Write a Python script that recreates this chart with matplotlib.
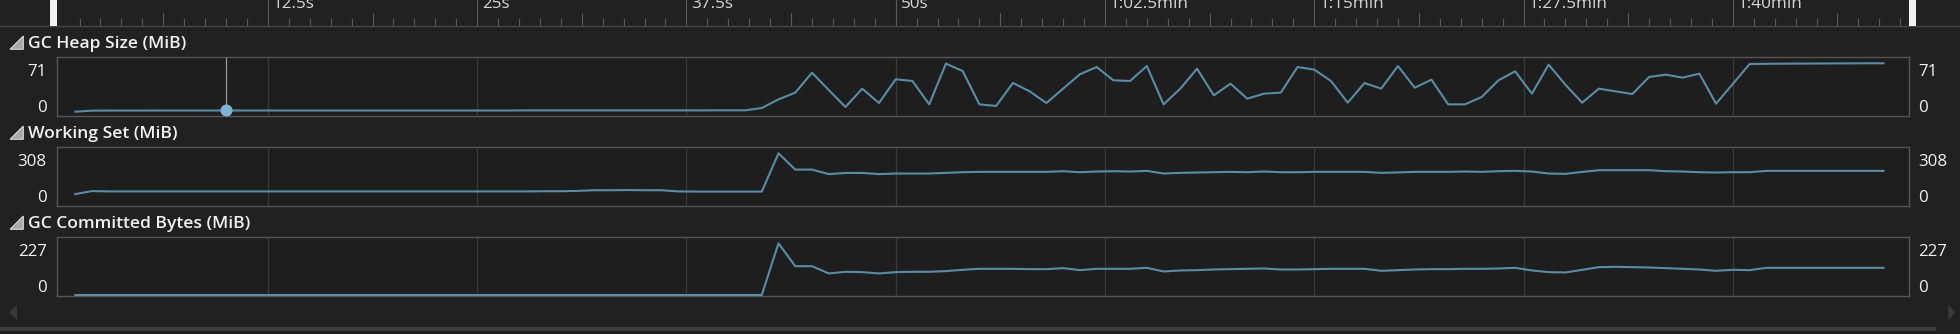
import numpy as np
import matplotlib.pyplot as plt
from matplotlib.patches import Polygon, Rectangle
from matplotlib.transforms import offset_copy

W, H = 1960, 334

BG = "#212121"
BOX_BG = "#1e1e1e"
EDGE = "#555555"
GRID = "#3a3a3a"
LINE = "#5b8ca6"
TEXT = "#f1f1f1"
TICK = "#5a5a5a"

plt.rcParams["font.family"] = ["Open Sans", "DejaVu Sans"]

# one sample per second
seconds = np.arange(1, 110)

heap_mib = [
    4.5, 6.0, 6.1, 6.1, 6.1, 6.2, 6.2, 6.2, 6.2, 6.2,
    6.2, 6.2, 6.2, 6.2, 6.2, 6.2, 6.2, 6.2, 6.2, 6.2,
    6.2, 6.2, 6.2, 6.2, 6.2, 6.2, 6.2, 6.3, 6.3, 6.3,
    6.3, 6.3, 6.3, 6.3, 6.3, 6.3, 6.3, 6.3, 6.4, 6.4,
    6.4, 9.6, 21.5, 30.7, 58.1, 34.3, 11.0, 36.2, 16.5, 49.0,
    46.7, 14.6, 70.5, 60.4, 14.6, 12.4, 44.0, 32.5, 16.5, 36.2,
    55.9, 65.9, 47.6, 46.7, 67.3, 14.6, 36.2, 63.6, 27.0, 43.0,
    22.4, 29.3, 30.7, 65.9, 62.3, 46.7, 16.9, 43.9, 36.2, 67.3,
    37.5, 48.5, 14.6, 14.6, 24.7, 47.6, 60.0, 29.3, 69.1, 41.7,
    16.9, 36.2, 32.5, 28.8, 52.2, 55.4, 51.3, 56.8, 15.6, 42.6,
    70.0, 70.3, 70.5, 70.6, 70.7, 70.8, 70.9, 71.0, 71.0,
]

working_set_mib = [
    65, 83, 81, 81, 81, 81, 81, 81, 81, 81,
    81, 81, 81, 81, 81, 81, 81, 81, 81, 81,
    81, 81, 81, 81, 81, 81, 81, 81, 82, 82,
    84, 88, 88, 89, 88, 88, 81, 80, 80, 80,
    80, 80, 308, 211, 211, 184, 191, 191, 184, 187.5,
    187.5, 187.5, 191.5, 195.4, 197.4, 197.4, 197.4, 197.4, 197.4, 201.3,
    195.4, 199.4, 201.3, 199.4, 203.3, 187.5, 191.5, 193.5, 195.4, 197.4,
    195.4, 199.4, 195.4, 195.4, 197.4, 197.4, 197.4, 197.4, 191.5, 194.0,
    197.4, 197.4, 197.4, 199.4, 197.4, 201.3, 203.3, 199.4, 187.5, 185.6,
    197.0, 207.3, 207.3, 207.3, 207.3, 201.3, 199.4, 195.4, 193.5, 195.4,
    195.4, 203.3, 203.3, 203.3, 203.3, 203.3, 203.3, 203.3, 203.3,
]

committed_mib = [
    0, 0, 0, 0, 0, 0, 0, 0, 0, 0,
    0, 0, 0, 0, 0, 0, 0, 0, 0, 0,
    0, 0, 0, 0, 0, 0, 0, 0, 0, 0,
    0, 0, 0, 0, 0, 0, 0, 0, 0, 0,
    0, 0, 227, 126.6, 126.6, 94.6, 101.9, 100.4, 94.6, 100.4,
    101.9, 101.9, 104.8, 110.6, 115, 115, 115, 113.5, 113.5, 117.9,
    109.1, 115, 115, 115, 119.3, 103.3, 107.7, 109.1, 112, 113.5,
    115, 116.4, 112, 112, 113.5, 115, 115, 115, 106.2, 109.1,
    112, 113.5, 113.5, 115, 115, 116.4, 119.3, 107.7, 100.4, 98.9,
    110.6, 122.2, 123.7, 122.2, 120.8, 117.9, 115, 112, 106.2, 110.6,
    109.1, 119.3, 119.3, 119.3, 119.3, 119.3, 119.3, 119.3, 119.3,
]

titles = ["GC Heap Size (MiB)", "Working Set (MiB)", "GC Committed Bytes (MiB)"]
max_labels = [71, 308, 227]
panel_tops = [57.3, 147.3, 237.3]

ruler_labels = ["12.5s", "25s", "37.5s", "50s", "1:02.5min", "1:15min", "1:27.5min", "1:40min"]
ruler_major = [12.5, 25, 37.5, 50, 62.5, 75, 87.5, 100]

cursor_time = 10

# pixel -> seconds (x = 58.6 + 16.742 * t)
px_per_s = 16.742
t0_px = 58.6
box_left, box_right = 56.7, 1909.3
box_h = 58.7


def to_t(px):
    return (px - t0_px) / px_per_s


fig = plt.figure(figsize=(W / 100, H / 100), dpi=100, facecolor=BG)

# time ruler on top
ruler = fig.add_axes([0, 1 - 26 / H, 1, 26 / H])
ruler.set_facecolor(BG)
ruler.set_xlim(to_t(0), to_t(W))
ruler.set_ylim(0, 26)
for side in ["top", "left", "right"]:
    ruler.spines[side].set_visible(False)
ruler.spines["bottom"].set_color("#474747")
ruler.spines["bottom"].set_linewidth(1)
ruler.set_xticks([])
ruler.set_yticks([])
for i, t in enumerate(np.arange(1.25, 110.01, 1.25)):
    if (i + 1) % 10 == 0:
        h = 26
    elif (i + 1) % 5 == 0:
        h = 13.3
    else:
        h = 6.7
    ruler.plot([t, t], [0, h], color=TICK, lw=0.8)
for t, lab in zip(ruler_major, ruler_labels):
    ruler.text(t + 5 / px_per_s, 18, lab, color="#d4d4d4", fontsize=12.3,
               ha="left", va="baseline")
# selection handles
for x in [50, 1909.3]:
    fig.add_artist(Rectangle((x / W, 1 - 26 / H), 6.7 / W, 26 / H,
                             transform=fig.transFigure, color="#f2f2f2", lw=0))

series = [heap_mib, working_set_mib, committed_mib]
axes = []
for top, vals, mx, title in zip(panel_tops, series, max_labels, titles):
    ax = fig.add_axes([box_left / W, 1 - (top + box_h) / H,
                       (box_right - box_left) / W, box_h / H])
    ax.set_facecolor(BOX_BG)
    ax.set_xlim(to_t(box_left), to_t(box_right))
    ax.set_ylim(-mx / 51.7, mx * (1 + 6 / 51.7))
    for s in ax.spines.values():
        s.set_color(EDGE)
        s.set_linewidth(1)
    ax.set_xticks([])
    ax.set_yticks([])
    for g in ruler_major:
        ax.axvline(g, color=GRID, lw=0.9, zorder=1)
    ax.plot(seconds, vals, color=LINE, lw=1.5, zorder=3)

    left_tr = offset_copy(ax.transAxes, fig=fig, x=-10, y=0, units="dots")
    right_tr = offset_copy(ax.transAxes, fig=fig, x=8.5, y=0, units="dots")
    for tr, x, ha in [(left_tr, 0, "right"), (right_tr, 1, "left")]:
        ax.text(x, 1 - 18.7 / box_h, str(mx), transform=tr, ha=ha,
                va="baseline", color=TEXT, fontsize=12.2)
        ax.text(x, 4.3 / box_h, "0", transform=tr, ha=ha,
                va="baseline", color=TEXT, fontsize=12.2)

    # collapse triangle + title
    tri = [(23.3 / W, 1 - (top - 8) / H), (10 / W, 1 - (top - 8) / H),
           (23.3 / W, 1 - (top - 21.3) / H)]
    fig.add_artist(Polygon(tri, closed=True, transform=fig.transFigure,
                           facecolor="#a9a9a9", edgecolor="#e6e6e6", lw=0.7))
    fig.text(28.3 / W, 1 - (top - 9) / H, title, color=TEXT, fontsize=12.6,
             fontweight="semibold", ha="left", va="baseline")
    axes.append(ax)

# hover cursor on the heap panel
heap_ax = axes[0]
idx = list(seconds).index(cursor_time)
heap_ax.vlines(cursor_time, heap_mib[idx], heap_ax.get_ylim()[1],
               color="#9a9a9a", lw=0.9, zorder=5)
heap_ax.plot(cursor_time, heap_mib[idx], marker="o", ms=7.7,
             color="#7db3d3", mec="#7db3d3", zorder=6, clip_on=False)

# scrollbar area at the bottom
fig.add_artist(Rectangle((0, 1 - 330.7 / H), 1936 / W, 4 / H,
                         transform=fig.transFigure, color="#3d3d3d", lw=0))
fig.add_artist(Polygon([(9 / W, 1 - 312.5 / H), (17 / W, 1 - 305 / H),
                        (17 / W, 1 - 320 / H)], transform=fig.transFigure,
                       color="#3a3a3a", lw=0))
fig.add_artist(Polygon([(1955 / W, 1 - 312.5 / H), (1948.3 / W, 1 - 304.7 / H),
                        (1948.3 / W, 1 - 320 / H)], transform=fig.transFigure,
                       color="#3a3a3a", lw=0))

fig.savefig("out.png", dpi=100, facecolor=BG)
